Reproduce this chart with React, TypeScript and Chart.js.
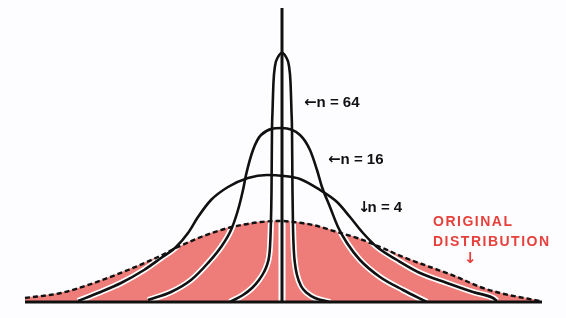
import React, { useEffect, useRef } from 'react';
import { Chart, registerables } from 'chart.js';

Chart.register(...registerables);

// Horizontal position (centre = 0) and heights of each curve
const originalX = [-2.57, -2.21, -1.88, -1.54, -1.24, -1.04, -0.81, -0.54, -0.21, 0, 0.11, 0.31, 0.55, 0.75, 0.98, 1.21, 1.48, 1.75, 1.98, 2.18, 2.58];
const originalY = [0.04, 0.09, 0.19, 0.32, 0.45, 0.55, 0.65, 0.74, 0.80, 0.81, 0.80, 0.77, 0.70, 0.64, 0.55, 0.45, 0.35, 0.25, 0.15, 0.09, 0.01];

const n4X = [-2.04, -1.84, -1.61, -1.38, -1.21, -1.06, -0.94, -0.84, -0.71, -0.54, -0.34, -0.15, 0.02, 0.18, 0.38, 0.55, 0.68, 0.81, 0.95, 1.15, 1.38, 1.65, 1.91, 2.11, 2.15];
const n4Y = [0.01, 0.09, 0.19, 0.32, 0.44, 0.55, 0.69, 0.85, 1.02, 1.15, 1.24, 1.27, 1.26, 1.23, 1.12, 1.0, 0.85, 0.69, 0.55, 0.42, 0.29, 0.19, 0.10, 0.04, 0.01];

const n16X = [-1.34, -1.11, -0.91, -0.74, -0.61, -0.51, -0.44, -0.39, -0.36, -0.29, -0.21, 0, 0.18, 0.28, 0.35, 0.40, 0.48, 0.56, 0.65, 0.78, 0.98, 1.21, 1.45];
const n16Y = [0.02, 0.10, 0.22, 0.39, 0.55, 0.72, 0.92, 1.12, 1.27, 1.52, 1.67, 1.74, 1.67, 1.52, 1.32, 1.15, 0.95, 0.75, 0.59, 0.42, 0.25, 0.12, 0.0];

const n64X = [-0.52, -0.39, -0.30, -0.23, -0.18, -0.15, -0.13, -0.12, -0.112, -0.105, -0.10, -0.095, -0.085, -0.07, -0.04, 0, 0.04, 0.07, 0.085, 0.095, 0.10, 0.105, 0.11, 0.118, 0.13, 0.15, 0.19, 0.25, 0.33, 0.48];
const n64Y = [0.0, 0.07, 0.14, 0.22, 0.30, 0.37, 0.45, 0.55, 0.75, 1.1, 1.72, 1.9, 2.2, 2.36, 2.45, 2.49, 2.45, 2.36, 2.2, 1.9, 1.72, 1.1, 0.75, 0.52, 0.38, 0.27, 0.16, 0.09, 0.04, 0.0];

const axisX = [-2.57, 2.60];
const axisY = [0, 0];
const centreX = [0, 0];
const centreY = [0, 2.94];

const labelArrows = ['←', '←', '↓', '', '', '↓'];
const labelTexts = ['n = 64', 'n = 16', 'n = 4', 'ORIGINAL', 'DISTRIBUTION', ''];
const labelX = [0.22, 0.46, 0.76, 1.51, 1.51, 1.82];
const labelY = [1.99, 1.42, 0.94, 0.80, 0.60, 0.43];
const labelKinds = ['n', 'n', 'n', 'orig', 'orig', 'arrow'];

const pts = (xs: number[], ys: number[]) => xs.map((x, i) => ({ x, y: ys[i] }));

const BLACK = '#111111';
const RED_FILL = 'rgb(238,125,122)';
const RED_TEXT = '#e6403c';

const labelPlugin = {
  id: 'curveLabels',
  afterDatasetsDraw(chart: any) {
    const { ctx, scales } = chart;
    ctx.save();
    ctx.textBaseline = 'middle';
    ctx.textAlign = 'left';
    labelTexts.forEach((t, i) => {
      let px = scales.x.getPixelForValue(labelX[i]);
      const py = scales.y.getPixelForValue(labelY[i]);
      const kind = labelKinds[i];
      const color = kind === 'n' ? BLACK : RED_TEXT;
      ctx.fillStyle = color;
      const arrow = labelArrows[i];
      if (arrow) {
        ctx.font = 'bold 15px "DejaVu Sans", sans-serif';
        (ctx as any).letterSpacing = '0px';
        ctx.fillText(arrow, px, py);
        px += ctx.measureText(arrow).width - (arrow === '↓' ? 3 : 0);
      }
      if (t) {
        if (kind === 'n') {
          ctx.font = 'bold 15px "Liberation Sans", Arial, sans-serif';
          (ctx as any).letterSpacing = '0px';
        } else {
          ctx.font = 'bold 14px "Liberation Sans", Arial, sans-serif';
          (ctx as any).letterSpacing = '1.5px';
        }
        ctx.fillText(t, px, py);
      }
    });
    ctx.restore();
  },
};

export default function App() {
  const ref = useRef<HTMLCanvasElement | null>(null);
  useEffect(() => {
    if (!ref.current) return;
    const base = {
      pointRadius: 0,
      pointHoverRadius: 0,
      cubicInterpolationMode: 'monotone' as const,
      fill: false,
    };
    const halo = (data: any) => ({ ...base, data, borderColor: '#ffffff', borderWidth: 6, order: 5 });
    const curve = (data: any) => ({ ...base, data, borderColor: BLACK, borderWidth: 2.6, order: 1 });
    const orig = pts(originalX, originalY);
    const c4 = pts(n4X, n4Y);
    const c16 = pts(n16X, n16Y);
    const c64 = pts(n64X, n64Y);
    const centre = pts(centreX, centreY);
    const chart = new Chart(ref.current, {
      type: 'line',
      data: {
        datasets: [
          { ...base, label: 'original fill', data: orig, fill: 'origin', backgroundColor: RED_FILL, borderColor: RED_FILL, borderWidth: 1, order: 10 },
          { ...base, label: 'original', data: orig, borderColor: BLACK, borderWidth: 2.4, borderDash: [5, 3], order: 3 },
          halo(c4), halo(c16), halo(c64),
          { ...base, data: centre, borderColor: '#ffffff', borderWidth: 7, order: 5 },
          curve(c4), curve(c16), curve(c64),
          { ...base, label: 'centre', data: centre, borderColor: BLACK, borderWidth: 3, order: 0 },
          { ...base, label: 'axis', data: pts(axisX, axisY), borderColor: BLACK, borderWidth: 3, order: 0 },
        ] as any,
      },
      options: {
        animation: false,
        responsive: true,
        maintainAspectRatio: false,
        events: [],
        layout: { padding: 0 },
        plugins: { legend: { display: false }, tooltip: { enabled: false } },
        scales: {
          x: { type: 'linear', min: -2.82, max: 2.84, display: false },
          y: { type: 'linear', min: -0.16, max: 3.02, display: false },
        },
      },
      plugins: [labelPlugin],
    });
    return () => chart.destroy();
  }, []);
  return (
    <div style={{ position: 'absolute', left: 0, top: 0, width: 566, height: 318, background: '#fdfdff' }}>
      <canvas ref={ref} />
    </div>
  );
}
